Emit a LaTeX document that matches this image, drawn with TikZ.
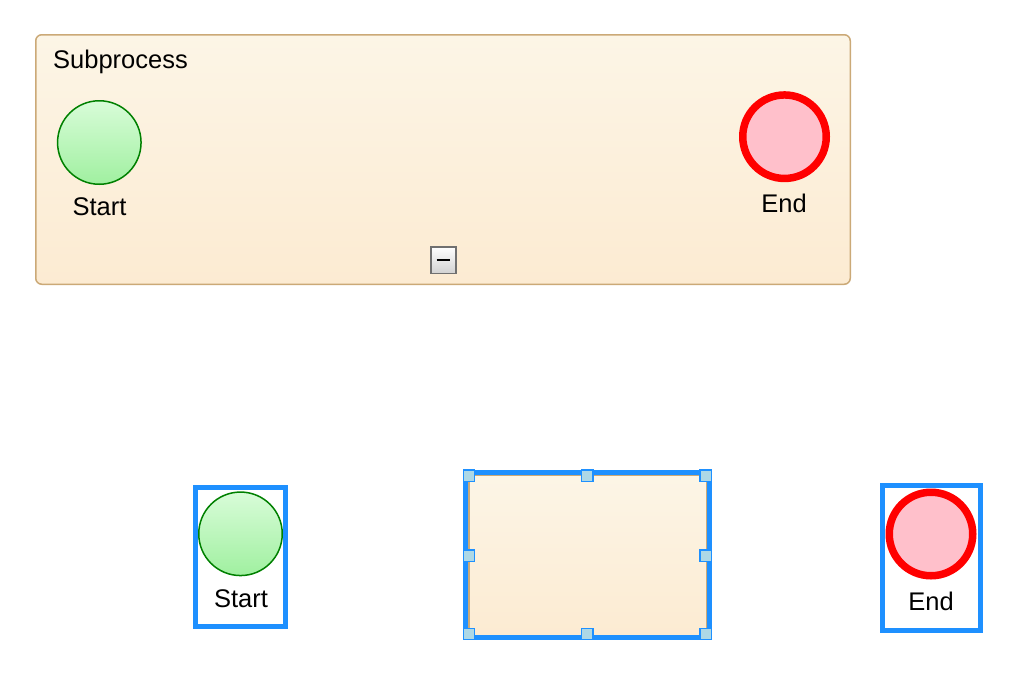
\documentclass[tikz,border=0pt]{standalone}
\usepackage{fontspec}
\setmainfont{Liberation Sans}
\definecolor{tanc}{HTML}{CBA977}
\definecolor{creamtop}{HTML}{FCF5E6}
\definecolor{creambot}{HTML}{FCEBD2}
\definecolor{startgreen}{HTML}{008000}
\definecolor{greentop}{HTML}{D8FCD8}
\definecolor{greenbot}{HTML}{A0F0A0}
\definecolor{pinkc}{HTML}{FFC0CB}
\definecolor{endred}{HTML}{FF0000}
\definecolor{selblue}{HTML}{1E90FF}
\definecolor{handlefill}{HTML}{ADD8E6}
\definecolor{btnborder}{HTML}{707070}
\definecolor{btnbot}{HTML}{D2D2D2}
\begin{document}
\begin{tikzpicture}[x=1pt, y=-1pt,
  subbox/.style={draw=tanc, line width=1.5pt, rounded corners=6pt, top color=creamtop, bottom color=creambot, inner sep=0},
  startev/.style={circle, draw=startgreen, line width=1.5pt, top color=greentop, bottom color=greenbot, minimum size=83.5pt, inner sep=0},
  endev/.style={circle, draw=endred, line width=7.5pt, fill=pinkc, minimum size=83.5pt, inner sep=0},
  selbox/.style={draw=selblue, line width=5pt, inner sep=0},
  handle/.style={draw=selblue, line width=1.4pt, fill=handlefill, minimum size=11.5pt, inner sep=0},
  lbl/.style={font=\fontsize{25.5}{30}\selectfont, inner sep=0, anchor=base},
  btn/.style={draw=btnborder, line width=1.5pt, top color=white, bottom color=btnbot, minimum width=25pt, minimum height=26.5pt, inner sep=0}
]
\useasboundingbox (0,0) rectangle (1024,686);

% Subprocess container
\node[subbox, minimum width=814.5pt, minimum height=249.5pt] (sub) at (443,159.5) {};
\node[lbl, anchor=base west] (subtitle) at (53,68) {Subprocess};
\node[startev] (s1) at (99.3,142.5) {};
\node[lbl] (s1lbl) at (99.5,215.5) {Start};
\node[endev] (e1) at (784.5,136.7) {};
\node[lbl] (e1lbl) at (784,212.7) {End};
\node[btn] (btn) at (443.3,260) {};
\draw[line width=2.2pt] ([xshift=-6.6pt]btn.center) -- ([xshift=6.6pt]btn.center);

% Selected start event
\node[selbox, minimum width=90.7pt, minimum height=138.7pt] (s2sel) at (240.6,557.3) {};
\node[startev] (s2) at (240.5,533.8) {};
\node[lbl] (s2lbl) at (241,607) {Start};

% Selected collapsed subprocess
\node[draw=tanc, line width=1.5pt, top color=creamtop, bottom color=creambot, minimum width=238pt, minimum height=160pt, inner sep=0] (task) at (588,555.7) {};
\node[selbox, minimum width=244pt, minimum height=165.5pt] (tasksel) at (587.5,555.2) {};
\foreach \hx/\hy/\hn in {469/475.7/h1, 587.3/475.7/h2, 705.7/475.7/h3, 469/555.7/h4, 705.7/555.7/h5, 469/634/h6, 587.3/634/h7, 705.7/634/h8}
  \node[handle] (\hn) at (\hx,\hy) {};

% Selected end event
\node[selbox, minimum width=97.7pt, minimum height=145pt] (e2sel) at (931.3,557.5) {};
\node[endev] (e2) at (931,534) {};
\node[lbl] (e2lbl) at (931,610) {End};
\end{tikzpicture}
\end{document}
